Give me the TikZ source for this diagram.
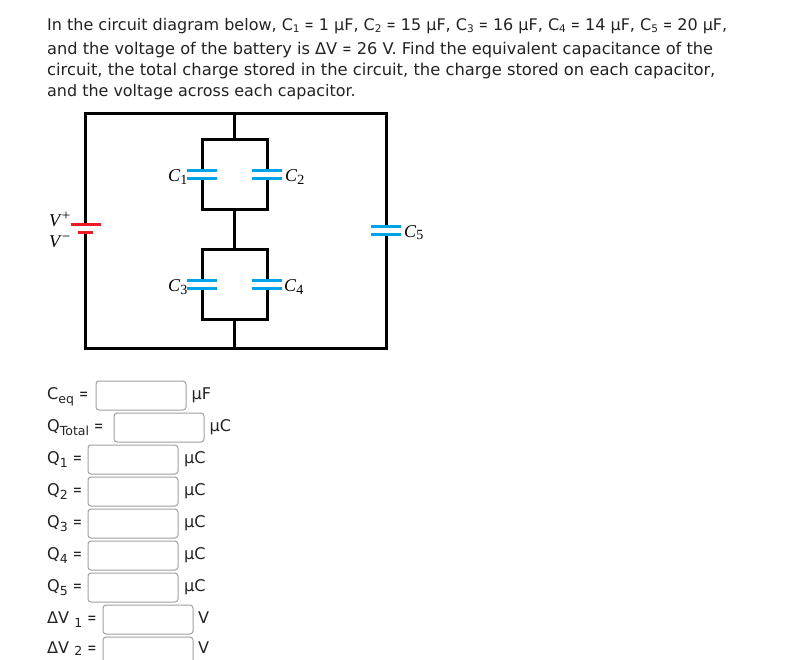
\documentclass[tikz,border=0pt]{standalone}
\usepackage{fontspec}
\setmainfont{DejaVu Sans}
\newfontfamily\symfont{Liberation Serif}
\definecolor{platecap}{HTML}{00A2E8}
\definecolor{platebat}{HTML}{ED1C24}
\definecolor{inputedge}{HTML}{A0A0A0}
\definecolor{inktext}{HTML}{222222}
\newcommand{\lowsub}[1]{\raisebox{-0.32ex}{\fontsize{10.5}{10.5}\selectfont #1}}
\newcommand{\rowsub}[1]{\raisebox{-0.55ex}{\fontsize{12.5}{12.5}\selectfont #1}}
\newcommand{\symsub}[1]{\raisebox{-0.35ex}{\fontsize{14}{14}\selectfont #1}}
\newcommand{\symsup}[1]{\raisebox{6pt}{\fontsize{15}{15}\selectfont #1}}
\newcommand{\eqs}{\scalebox{0.68}[1]{=}}
\tikzstyle{wire} = [line width=3pt, line join=miter]
\tikzstyle{capplate} = [fill=platecap, inner sep=0pt, outer sep=0pt, minimum width=30pt, minimum height=3pt]
\tikzstyle{batlong} = [fill=platebat, inner sep=0pt, outer sep=0pt, minimum width=30pt, minimum height=3pt]
\tikzstyle{batshort} = [fill=platebat, inner sep=0pt, outer sep=0pt, minimum width=15pt, minimum height=3pt]
\tikzstyle{sym} = [inner sep=0pt, anchor=base west, font=\symfont\fontsize{18}{18}\selectfont]
\tikzstyle{para} = [inner sep=0pt, anchor=base west, text=inktext, font=\fontsize{16.1}{20}\selectfont]
\tikzstyle{field} = [draw=inputedge, line width=1pt, rounded corners=3pt, inner sep=0pt, minimum width=90pt, minimum height=29pt, anchor=north west]

\begin{document}
\begin{tikzpicture}[x=1pt, y=-1pt]
  \clip (0,0) rectangle (790,659);
  % question text
  \node (line1) at (47,30) [para, font=\fontsize{16}{20}\selectfont] {In the circuit diagram below, C\lowsub{1} \eqs{} 1 μF, C\lowsub{2} \eqs{} 15 μF, C\lowsub{3} \eqs{} 16 μF, C\lowsub{4} \eqs{} 14 μF, C\lowsub{5} \eqs{} 20 μF,};
  \node (line2) at (47,54) [para, font=\fontsize{16.2}{20}\selectfont] {and the voltage of the battery is ΔV \eqs{} 26 V. Find the equivalent capacitance of the};
  \node (line3) at (47,75.5) [para, font=\fontsize{16.35}{20}\selectfont] {circuit, the total charge stored in the circuit, the charge stored on each capacitor,};
  \node (line4) at (47,96) [para, font=\fontsize{15.95}{20}\selectfont] {and the voltage across each capacitor.};

  % corners
  \coordinate (tl) at (85.5,113.5);
  \coordinate (tm) at (234.5,113.5);
  \coordinate (tr) at (386.5,113.5);
  \coordinate (bl) at (85.5,348);
  \coordinate (bm) at (234.5,348);
  \coordinate (br) at (386.5,348);
  \coordinate (upl) at (202.5,139.5);
  \coordinate (upm) at (234.5,139.5);
  \coordinate (upr) at (267.5,139.5);
  \coordinate (ubl) at (202.5,209.5);
  \coordinate (ubm) at (234.5,209.5);
  \coordinate (ubr) at (267.5,209.5);
  \coordinate (lol) at (202.5,249.5);
  \coordinate (lom) at (234.5,249.5);
  \coordinate (lor) at (267.5,249.5);
  \coordinate (lbl) at (202.5,319.5);
  \coordinate (lbm) at (234.5,319.5);
  \coordinate (lbr) at (267.5,319.5);

  % plates
  \node (c1a) at (202,170.5) [capplate] {};
  \node (c1b) at (202,178.5) [capplate] {};
  \node (c2a) at (267,170.5) [capplate] {};
  \node (c2b) at (267,178.5) [capplate] {};
  \node (c3a) at (202,280.5) [capplate] {};
  \node (c3b) at (202,288.5) [capplate] {};
  \node (c4a) at (267,280.5) [capplate] {};
  \node (c4b) at (267,288.5) [capplate] {};
  \node (c5a) at (386,226.5) [capplate] {};
  \node (c5b) at (386,234.5) [capplate] {};
  \node (bata) at (86,224.5) [batlong] {};
  \node (batb) at (85.5,232.5) [batshort] {};

  % wires
  \draw [wire] (tl |- bata.north) -- (tl) -- (tr) -- (tr |- c5a.north);
  \draw [wire] (br |- c5b.south) -- (br) -- (bl) -- (bl |- batb.south);
  \draw [wire] (tm) -- (upm);
  \draw [wire] (upl |- c1a.north) -- (upl) -- (upr) -- (upr |- c2a.north);
  \draw [wire] (ubl |- c1b.south) -- (ubl) -- (ubr) -- (ubr |- c2b.south);
  \draw [wire] (ubm) -- (lom);
  \draw [wire] (lol |- c3a.north) -- (lol) -- (lor) -- (lor |- c4a.north);
  \draw [wire] (lbl |- c3b.south) -- (lbl) -- (lbr) -- (lbr |- c4b.south);
  \draw [wire] (lbm) -- (bm);

  % circuit labels
  \node (c1lab) at (168,181.7) [sym] {\textit{C}\symsub{1}};
  \node (c2lab) at (285,181.7) [sym] {\textit{C}\symsub{2}};
  \node (c3lab) at (168,291.7) [sym] {\textit{C}\symsub{3}};
  \node (c4lab) at (284,291.7) [sym] {\textit{C}\symsub{4}};
  \node (c5lab) at (404,237) [sym] {\textit{C}\symsub{5}};
  \node (vplus) at (49,226) [sym] {\textit{V}\symsup{+}};
  \node (vminus) at (49,247) [sym] {\textit{V}\symsup{−}};

  % answer rows
  \node (ceqlab) at (47,399) [para] {C\rowsub{eq}\hspace{5pt}\eqs};
  \node (ceqbox) at (95.5,380.5) [field] {};
  \node (cequnit) at (191.5,399) [para] {μF};
  \node (qtlab) at (47,431) [para] {Q\rowsub{Total}\hspace{5pt}\eqs};
  \node (qtbox) at (113.5,412.5) [field] {};
  \node (qtunit) at (209.5,431) [para] {μC};
  \node (q1lab) at (47,463) [para] {Q\rowsub{1}\hspace{5pt}\eqs};
  \node (q1box) at (87.5,444.5) [field] {};
  \node (q1unit) at (184,463) [para] {μC};
  \node (q2lab) at (47,495) [para] {Q\rowsub{2}\hspace{5pt}\eqs};
  \node (q2box) at (87.5,476.5) [field] {};
  \node (q2unit) at (184,495) [para] {μC};
  \node (q3lab) at (47,527) [para] {Q\rowsub{3}\hspace{5pt}\eqs};
  \node (q3box) at (87.5,508.5) [field] {};
  \node (q3unit) at (184,527) [para] {μC};
  \node (q4lab) at (47,559) [para] {Q\rowsub{4}\hspace{5pt}\eqs};
  \node (q4box) at (87.5,540.5) [field] {};
  \node (q4unit) at (184,559) [para] {μC};
  \node (q5lab) at (47,591) [para] {Q\rowsub{5}\hspace{5pt}\eqs};
  \node (q5box) at (87.5,572.5) [field] {};
  \node (q5unit) at (184,591) [para] {μC};
  \node (dv1lab) at (47,623) [para] {ΔV \rowsub{1}\hspace{5pt}\eqs};
  \node (dv1box) at (102.5,604.5) [field] {};
  \node (dv1unit) at (198,623) [para] {V};
  \node (dv2lab) at (47,653.5) [para] {ΔV \raisebox{-0.25ex}{\fontsize{12.5}{12.5}\selectfont 2}\hspace{5pt}\eqs};
  \node (dv2box) at (102.5,636.5) [field] {};
  \node (dv2unit) at (198,653.5) [para] {V};
\end{tikzpicture}
\end{document}
